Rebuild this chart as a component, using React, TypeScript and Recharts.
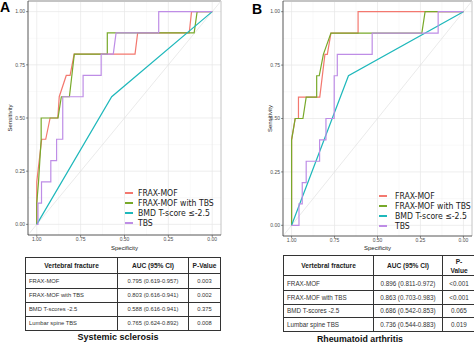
import React from 'react';
import { LineChart, Line, XAxis, YAxis, CartesianGrid, ReferenceLine, Legend } from 'recharts';

const FONT = '"Liberation Sans", Arial, Helvetica, sans-serif';
const NARROW = '"Liberation Sans Narrow", "Arial Narrow", "DejaVu Sans Condensed", "Liberation Sans", sans-serif';

const seriesNames = ['FRAX-MOF', 'FRAX-MOF with TBS', 'BMD T-score \u2264-2.5', 'TBS'];
const seriesColors = ['#F3786F', '#78A92A', '#1EB8BB', '#BE8DE6'];
const axisTicks = [0, 0.25, 0.5, 0.75, 1];
const minorGrid = [0.125, 0.375, 0.625, 0.875];

// Panel A – Systemic sclerosis (specificity / sensitivity pairs)
const ssFraxSpec = [1, 1, 0.972, 0.949, 0.924, 0.88, 0.872, 0.832, 0.81, 0.787, 0.44, 0.425, 0.131, 0.118, 0];
const ssFraxSens = [0, 0.2, 0.4, 0.4, 0.5, 0.5, 0.6, 0.7, 0.7, 0.8, 0.8, 0.9, 0.9, 1, 1];
const ssFraxTbsSpec = [1, 1, 0.99, 0.975, 0.975, 0.879, 0.86, 0.814, 0.786, 0.598, 0.598, 0.103, 0.086, 0];
const ssFraxTbsSens = [0, 0.1, 0.2, 0.4, 0.5, 0.5, 0.6, 0.6, 0.8, 0.8, 0.9, 0.9, 1, 1];
const ssBmdSpec = [1, 0.573, 0];
const ssBmdSens = [0, 0.6, 1];
const ssTbsSpec = [1, 0.993, 0.993, 0.973, 0.973, 0.92, 0.92, 0.887, 0.887, 0.852, 0.852, 0.736, 0.736, 0.633, 0.633, 0.564, 0.548, 0.305, 0.305, 0];
const ssTbsSens = [0, 0, 0.1, 0.1, 0.2, 0.2, 0.3, 0.3, 0.4, 0.4, 0.6, 0.6, 0.7, 0.7, 0.8, 0.8, 0.9, 0.9, 1, 1];

// Panel B – Rheumatoid arthritis
const raFraxSpec = [1, 1, 0.979, 0.96, 0.96, 0.836, 0.806, 0.792, 0.771, 0.613, 0.613, 0];
const raFraxSens = [0, 0.4, 0.5, 0.5, 0.6, 0.6, 0.8, 0.8, 0.9, 0.9, 1, 1];
const raFraxTbsSpec = [1, 1, 0.979, 0.934, 0.915, 0.854, 0.854, 0.839, 0.815, 0.771, 0.242, 0.223, 0];
const raFraxTbsSens = [0, 0.4, 0.5, 0.5, 0.6, 0.6, 0.7, 0.7, 0.8, 0.9, 0.9, 1, 1];
const raBmdSpec = [1, 0.669, 0];
const raBmdSens = [0, 0.7, 1];
const raTbsSpec = [1, 0.957, 0.957, 0.938, 0.938, 0.915, 0.915, 0.837, 0.837, 0.8, 0.8, 0.752, 0.752, 0.734, 0.734, 0.531, 0.531, 0.147, 0.147, 0];
const raTbsSens = [0, 0, 0.1, 0.1, 0.2, 0.2, 0.3, 0.3, 0.4, 0.4, 0.5, 0.5, 0.7, 0.7, 0.8, 0.8, 0.9, 0.9, 1, 1];

// Tables
const tableHeaders = ['Vertebral fracture', 'AUC (95% CI)', 'P-Value'];
const rowLabels = ['FRAX-MOF', 'FRAX-MOF with TBS', 'BMD T-scores -2.5', 'Lumbar spine TBS'];
const ssAuc = ['0.795 (0.619-0.957)', '0.803 (0.616-0.941)', '0.588 (0.616-0.941)', '0.765 (0.624-0.892)'];
const ssP = ['0.003', '0.002', '0.375', '0.008'];
const raAuc = ['0.896 (0.811-0.972)', '0.863 (0.703-0.983)', '0.686 (0.542-0.853)', '0.736 (0.544-0.883)'];
const raP = ['<0.001', '<0.001', '0.065', '0.019'];

const zip = (spec: number[], sens: number[]) => spec.map((s, i) => ({ spec: s, sens: sens[i] }));

const ssSeries = [zip(ssFraxSpec, ssFraxSens), zip(ssFraxTbsSpec, ssFraxTbsSens), zip(ssBmdSpec, ssBmdSens), zip(ssTbsSpec, ssTbsSens)];
const raSeries = [zip(raFraxSpec, raFraxSens), zip(raFraxTbsSpec, raFraxTbsSens), zip(raBmdSpec, raBmdSens), zip(raTbsSpec, raTbsSens)];

type PanelProps = {
  series: { spec: number; sens: number }[][];
  width: number;
  height: number;
  yAxisWidth: number;
  rightMargin: number;
  yLabelGap: number;
  legendLeft: number;
  legendTop: number;
  keyGap: number;
  xLabelOffset: number;
};

function RocPanel(p: PanelProps) {
  const renderLegend = () => (
    <div style={{ fontFamily: NARROW, fontSize: 8.6, color: '#1a1a1a' }}>
      {seriesNames.map((n, i) => (
        <div key={n} style={{ display: 'flex', alignItems: 'center', height: 10, whiteSpace: 'nowrap' }}>
          <div style={{ width: 8, height: 1.2, minHeight: 0, background: seriesColors[i], marginRight: p.keyGap, flex: '0 0 auto' }} />
          <span style={{ lineHeight: '10px' }}>{n}</span>
        </div>
      ))}
    </div>
  );
  return (
    <LineChart width={p.width} height={p.height} margin={{ top: 1, right: p.rightMargin, bottom: 0, left: 0 }}>
      <CartesianGrid verticalValues={minorGrid} horizontalValues={minorGrid} stroke="#f3f3f3" strokeWidth={0.5} />
      <CartesianGrid verticalValues={axisTicks} horizontalValues={axisTicks} stroke="#e6e6e6" strokeWidth={0.7} />
      <XAxis
        type="number"
        dataKey="spec"
        domain={[-0.05, 1.05]}
        reversed
        allowDataOverflow
        ticks={axisTicks}
        interval={0}
        tickFormatter={(v: number) => v.toFixed(2)}
        height={17}
        tickSize={2}
        tickMargin={0.5}
        tick={{ fontSize: 5, fill: '#4d4d4d', fontFamily: FONT }}
        tickLine={{ stroke: '#444', strokeWidth: 0.6 }}
        axisLine={{ stroke: '#444', strokeWidth: 0.9 }}
        label={{ value: 'Specificity', position: 'insideBottom', offset: p.xLabelOffset, fontSize: 6, fill: '#222', fontFamily: FONT }}
      />
      <YAxis
        type="number"
        dataKey="sens"
        domain={[-0.05, 1.05]}
        allowDataOverflow
        ticks={axisTicks}
        interval={0}
        tickFormatter={(v: number) => v.toFixed(2)}
        width={p.yAxisWidth}
        tickSize={2}
        tickMargin={1}
        tick={{ fontSize: 5, fill: '#4d4d4d', fontFamily: FONT }}
        tickLine={{ stroke: '#444', strokeWidth: 0.6 }}
        axisLine={{ stroke: '#444', strokeWidth: 0.9 }}
        label={(props: any) => {
          const vb = props.viewBox || { x: 0, y: 1, width: p.yAxisWidth, height: p.height - 18 };
          const cx = vb.x + vb.width - p.yLabelGap;
          const cy = vb.y + vb.height / 2;
          return (
            <text x={cx} y={cy} transform={`rotate(-90 ${cx} ${cy})`} textAnchor="middle" dominantBaseline="central" fontSize={6} fill="#222" fontFamily={FONT}>
              Sensitivity
            </text>
          );
        }}
      />
      <ReferenceLine x={-0.05} stroke="#c4c4c4" strokeWidth={1} />
      <ReferenceLine y={1.05} stroke="#c4c4c4" strokeWidth={2} />
      <ReferenceLine segment={[{ x: 1.05, y: -0.05 }, { x: -0.05, y: 1.05 }]} stroke="#dcdcdc" strokeWidth={0.6} />
      {p.series.map((d, i) => (
        <Line
          key={seriesNames[i]}
          name={seriesNames[i]}
          data={d}
          dataKey="sens"
          type="linear"
          stroke={seriesColors[i]}
          strokeWidth={1.2}
          dot={false}
          activeDot={false}
          isAnimationActive={false}
        />
      ))}
      <Legend
        layout="vertical"
        align="center"
        verticalAlign="middle"
        content={renderLegend}
        wrapperStyle={{ left: p.legendLeft, top: p.legendTop, width: 100 }}
      />
    </LineChart>
  );
}

type TableProps = {
  left: number;
  top: number;
  colWidths: number[];
  rowHeights: number[];
  bodyFont: number;
  auc: string[];
  pv: string[];
  splitP?: boolean;
};

function RocTable(t: TableProps) {
  const border = '1px solid #333';
  const cell: React.CSSProperties = { border, padding: '0 3px', verticalAlign: 'middle', overflow: 'hidden', whiteSpace: 'nowrap' };
  return (
    <table
      style={{
        position: 'absolute',
        left: t.left,
        top: t.top,
        width: t.colWidths.reduce((a, b) => a + b, 0),
        borderCollapse: 'collapse',
        tableLayout: 'fixed',
        fontFamily: FONT,
        color: '#333',
      }}
    >
      <colgroup>
        {t.colWidths.map((w, i) => (
          <col key={i} style={{ width: w }} />
        ))}
      </colgroup>
      <tbody>
        <tr style={{ height: t.rowHeights[0] }}>
          {tableHeaders.map((h, i) => (
            <td key={h} style={{ ...cell, fontWeight: 'bold', fontSize: 6.6, textAlign: 'center', color: '#222', lineHeight: '9px', whiteSpace: 'normal' }}>
              {i === 2 && t.splitP ? (
                <>
                  P-
                  <br />
                  Value
                </>
              ) : (
                h
              )}
            </td>
          ))}
        </tr>
        {rowLabels.map((r, i) => (
          <tr key={r} style={{ height: t.rowHeights[i + 1] }}>
            <td style={{ ...cell, fontSize: t.bodyFont, textAlign: 'left' }}>{r}</td>
            <td style={{ ...cell, fontSize: t.bodyFont, textAlign: 'center' }}>{t.auc[i]}</td>
            <td style={{ ...cell, fontSize: t.bodyFont, textAlign: 'center' }}>{t.pv[i]}</td>
          </tr>
        ))}
      </tbody>
    </table>
  );
}

export default function App() {
  return (
    <div style={{ position: 'absolute', left: 0, top: 0, width: 474, height: 343, overflow: 'hidden', background: '#fff', fontFamily: FONT }}>
      <div style={{ position: 'absolute', left: 0, top: 0 }}>
        <RocPanel
          series={ssSeries}
          width={237}
          height={252}
          yAxisWidth={28}
          rightMargin={16}
          yLabelGap={18}
          legendLeft={125}
          legendTop={188}
          keyGap={5}
          xLabelOffset={2.5}
        />
      </div>
      <div style={{ position: 'absolute', left: 250, top: 0 }}>
        <RocPanel
          series={raSeries}
          width={224}
          height={253}
          yAxisWidth={33}
          rightMargin={2}
          yLabelGap={13}
          legendLeft={129}
          legendTop={191}
          keyGap={8}
          xLabelOffset={3}
        />
      </div>
      <div style={{ position: 'absolute', left: 0, top: -1, fontSize: 14, fontWeight: 'bold', color: '#000', lineHeight: '16px' }}>A</div>
      <div style={{ position: 'absolute', left: 252, top: 1, fontSize: 14, fontWeight: 'bold', color: '#000', lineHeight: '16px' }}>B</div>
      <RocTable left={25} top={256.5} colWidths={[92, 71, 32]} rowHeights={[16, 15, 14, 14, 14]} bodyFont={5.8} auc={ssAuc} pv={ssP} />
      <RocTable left={283} top={255} colWidths={[90, 69, 33]} rowHeights={[20, 15, 13.5, 13.5, 14]} bodyFont={6.3} auc={raAuc} pv={raP} splitP />
      <div style={{ position: 'absolute', left: 68, width: 100, top: 332.5, textAlign: 'center', fontSize: 9, fontWeight: 'bold', lineHeight: '9px', color: '#111', whiteSpace: 'nowrap' }}>
        Systemic sclerosis
      </div>
      <div style={{ position: 'absolute', left: 305, width: 110, top: 335, textAlign: 'center', fontSize: 8.8, fontWeight: 'bold', lineHeight: '9px', color: '#111', whiteSpace: 'nowrap' }}>
        Rheumatoid arthritis
      </div>
    </div>
  );
}
